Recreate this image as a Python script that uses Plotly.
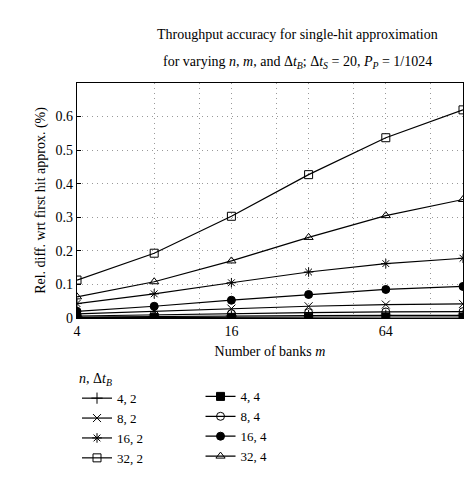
import plotly.graph_objects as go

banks = [4, 8, 16, 32, 64, 128]

# relative difference (%) per (n, dt_B) configuration
s_4_2 = [0.003, 0.005, 0.006, 0.007, 0.008, 0.008]
s_8_2 = [0.012, 0.020, 0.028, 0.035, 0.040, 0.042]
s_16_2 = [0.043, 0.072, 0.105, 0.137, 0.162, 0.178]
s_32_2 = [0.113, 0.193, 0.303, 0.427, 0.537, 0.620]
s_4_4 = [0.001, 0.002, 0.002, 0.002, 0.003, 0.003]
s_8_4 = [0.006, 0.010, 0.013, 0.016, 0.018, 0.019]
s_16_4 = [0.020, 0.035, 0.053, 0.070, 0.085, 0.094]
s_32_4 = [0.063, 0.108, 0.170, 0.240, 0.305, 0.353]

series = [
    ("4, 2", s_4_2, "cross-thin-open", "legend"),
    ("8, 2", s_8_2, "x-thin-open", "legend"),
    ("16, 2", s_16_2, "asterisk-open", "legend"),
    ("32, 2", s_32_2, "square-open", "legend"),
    ("4, 4", s_4_4, "square", "legend2"),
    ("8, 4", s_8_4, "circle-open", "legend2"),
    ("16, 4", s_16_4, "circle", "legend2"),
    ("32, 4", s_32_4, "triangle-up-open", "legend2"),
]

fig = go.Figure()
for name, vals, sym, leg in series:
    fig.add_trace(go.Scatter(
        x=banks, y=vals, name=name, mode="lines+markers", legend=leg,
        line=dict(color="black", width=1.2),
        marker=dict(symbol=sym, size=8, color="black", line=dict(color="black", width=1)),
    ))

font = "Liberation Serif, DejaVu Serif, serif"
axis_common = dict(showline=True, linecolor="black", linewidth=1.2, mirror=True,
                   ticks="inside", tickcolor="black", ticklen=4, zeroline=False,
                   tickfont=dict(size=14, color="black"))
fig.update_xaxes(type="log", range=[0.60206, 2.10721], tickvals=[4, 16, 64],
                 showgrid=False, title=dict(text="Number of banks <i>m</i>", font=dict(size=14), standoff=8),
                 minor=dict(tickvals=[8, 12, 16, 24, 32, 48, 64, 96], showgrid=True,
                            gridcolor="#999", griddash="1px,4px", gridwidth=1.3, ticks=""),
                 **axis_common)
fig.update_yaxes(range=[0, 0.7], tickvals=[0, 0.1, 0.2, 0.3, 0.4, 0.5, 0.6],
                 showgrid=True, gridcolor="#999", griddash="1px,4px", gridwidth=1.3,
                 title=dict(text="Rel. diff. wrt first hit approx. (%)", font=dict(size=14), standoff=6),
                 **axis_common)

fig.update_layout(
    width=474, height=477, template="simple_white",
    paper_bgcolor="white", plot_bgcolor="white",
    margin=dict(l=69, r=19, t=75, b=156),
    font=dict(family=font, size=14, color="black"),
    legend=dict(x=0.0, xref="paper", y=-0.2, yanchor="top", xanchor="left",
                title=dict(text="<i>n</i>, Δ<i>t</i><sub><i>B</i></sub>", font=dict(size=14)),
                font=dict(size=13), tracegroupgap=0, itemwidth=30, bgcolor="rgba(0,0,0,0)"),
    legend2=dict(x=0.32, xref="paper", y=-0.27, yanchor="top", xanchor="left",
                 font=dict(size=13), tracegroupgap=0, itemwidth=30, bgcolor="rgba(0,0,0,0)"),
)
fig.add_annotation(text="Throughput accuracy for single-hit approximation",
                   xref="paper", yref="paper", x=0.57, y=1.245, showarrow=False,
                   font=dict(size=14))
fig.add_annotation(text="for varying <i>n</i>, <i>m</i>, and Δ<i>t</i><sub><i>B</i></sub>; "
                        "Δ<i>t</i><sub><i>S</i></sub> = 20, <i>P</i><sub><i>P</i></sub> = 1/1024",
                   xref="paper", yref="paper", x=0.57, y=1.13, showarrow=False,
                   font=dict(size=14))

fig.write_html("out.html")
